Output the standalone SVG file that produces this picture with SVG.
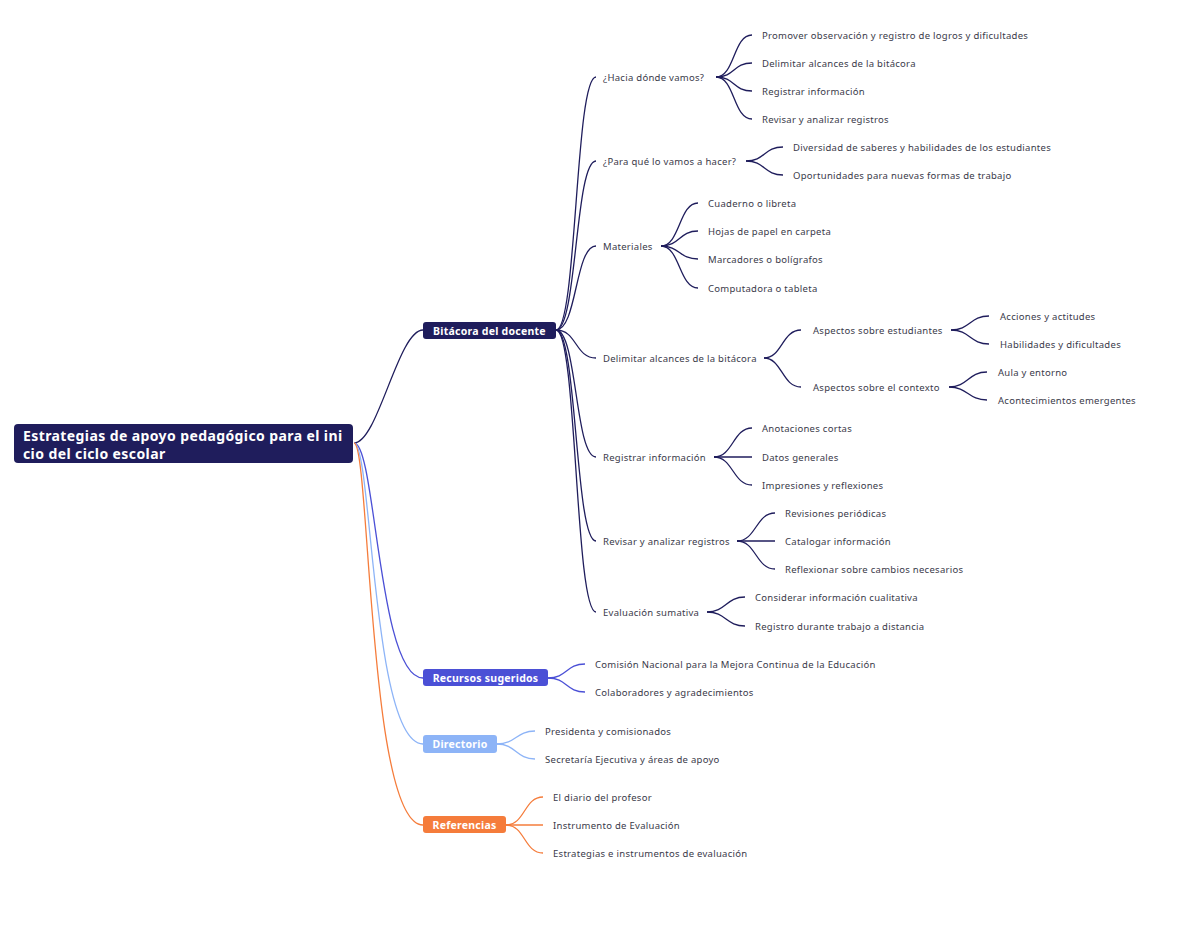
<svg xmlns="http://www.w3.org/2000/svg" width="1200" height="927" viewBox="0 0 1200 927">
<style>
.t{font-family:"Noto Sans","Open Sans",sans-serif;font-size:9.5px;letter-spacing:0.28px;fill:#3a3a4a;dominant-baseline:central}
.nb{font-family:"Noto Sans","Open Sans",sans-serif;font-weight:bold;fill:#ffffff;dominant-baseline:central}
.c{fill:none;stroke-width:1.3}
.cn{stroke:#1f1d5c}
.cr{stroke:#4b50d6}
.cd{stroke:#8db4f7}
.co{stroke:#f57c3b}
</style>
<rect width="1200" height="927" fill="#ffffff"/>
<g id="connectors">
<path class="c cn" d="M354 443 C378 443,398 330,423 330"/>
<path class="c cr" d="M354 443 C376 443,378 678,423 678"/>
<path class="c cd" d="M354 443 C372 443,372 744,423 744"/>
<path class="c co" d="M354 443 C370 443,368 825,423 825"/>
<path class="c cn" d="M556 330 C577 330,575 77,596 77"/>
<path class="c cn" d="M556 330 C577 330,575 161,596 161"/>
<path class="c cn" d="M556 330 C577 330,575 246,596 246"/>
<path class="c cn" d="M556 330 C577 330,575 358,596 358"/>
<path class="c cn" d="M556 330 C577 330,575 457,596 457"/>
<path class="c cn" d="M556 330 C577 330,575 541,596 541"/>
<path class="c cn" d="M556 330 C577 330,575 612,596 612"/>
<path class="c cn" d="M716 77 C735 77,733 35,752 35"/>
<path class="c cn" d="M716 77 C735 77,733 63,752 63"/>
<path class="c cn" d="M716 77 C735 77,733 91,752 91"/>
<path class="c cn" d="M716 77 C735 77,733 119,752 119"/>
<path class="c cn" d="M746 161 C765 161,764 147,783 147"/>
<path class="c cn" d="M746 161 C765 161,764 175,783 175"/>
<path class="c cn" d="M661 246 C680 246,679 203,698 203"/>
<path class="c cn" d="M661 246 C680 246,679 231,698 231"/>
<path class="c cn" d="M661 246 C680 246,679 259,698 259"/>
<path class="c cn" d="M661 246 C680 246,679 288,698 288"/>
<path class="c cn" d="M764 358 C782 358,782 330,801 330"/>
<path class="c cn" d="M764 358 C782 358,782 387,801 387"/>
<path class="c cn" d="M951 330 C970 330,970 316,989 316"/>
<path class="c cn" d="M951 330 C970 330,970 344,989 344"/>
<path class="c cn" d="M949 387 C968 387,968 372,987 372"/>
<path class="c cn" d="M949 387 C968 387,968 400,987 400"/>
<path class="c cn" d="M714 457 C733 457,733 428,752 428"/>
<path class="c cn" d="M714 457 L752 457"/>
<path class="c cn" d="M714 457 C733 457,733 485,752 485"/>
<path class="c cn" d="M737 541 C756 541,756 513,775 513"/>
<path class="c cn" d="M737 541 L775 541"/>
<path class="c cn" d="M737 541 C756 541,756 569,775 569"/>
<path class="c cn" d="M707 612 C726 612,726 597,745 597"/>
<path class="c cn" d="M707 612 C726 612,726 626,745 626"/>
<path class="c cr" d="M548 678 C567 678,566 664,585 664"/>
<path class="c cr" d="M548 678 C567 678,566 692,585 692"/>
<path class="c cd" d="M497 744 C516 744,516 731,535 731"/>
<path class="c cd" d="M497 744 C516 744,516 759,535 759"/>
<path class="c co" d="M506 825 C525 825,524 797,543 797"/>
<path class="c co" d="M506 825 L543 825"/>
<path class="c co" d="M506 825 C525 825,524 853,543 853"/>
</g>
<g id="root">
<rect x="14" y="424" width="339" height="39" rx="4" fill="#1f1d5c"/>
<text class="nb" x="23" y="435" font-size="14" letter-spacing="0.4">Estrategias de apoyo pedagógico para el ini</text>
<text class="nb" x="23" y="453" font-size="14" letter-spacing="0.4">cio del ciclo escolar</text>
</g>
<g id="n-bitacora"><rect x="423" y="322" width="133" height="17" rx="3" fill="#1f1d5c"/><text class="nb" x="489.5" y="330.5" font-size="10.5" letter-spacing="0.25" text-anchor="middle">Bitácora del docente</text></g>
<g id="n-recursos"><rect x="423" y="669" width="125" height="17" rx="3" fill="#4b50d6"/><text class="nb" x="485.5" y="677.5" font-size="10.5" letter-spacing="0.25" text-anchor="middle">Recursos sugeridos</text></g>
<g id="n-directorio"><rect x="423" y="735" width="74" height="18" rx="3" fill="#8db4f7"/><text class="nb" x="460" y="744" font-size="10.5" letter-spacing="0.25" text-anchor="middle">Directorio</text></g>
<g id="n-referencias"><rect x="423" y="816" width="83" height="17" rx="3" fill="#f57c3b"/><text class="nb" x="464.5" y="824.5" font-size="10.5" letter-spacing="0.25" text-anchor="middle">Referencias</text></g>
<g id="n-hacia"><text class="t" x="603" y="77">¿Hacia dónde vamos?</text></g>
<g id="n-hacia-1"><text class="t" x="762" y="35">Promover observación y registro de logros y dificultades</text></g>
<g id="n-hacia-2"><text class="t" x="762" y="63">Delimitar alcances de la bitácora</text></g>
<g id="n-hacia-3"><text class="t" x="762" y="91">Registrar información</text></g>
<g id="n-hacia-4"><text class="t" x="762" y="119">Revisar y analizar registros</text></g>
<g id="n-para"><text class="t" x="603" y="161">¿Para qué lo vamos a hacer?</text></g>
<g id="n-para-1"><text class="t" x="793" y="147">Diversidad de saberes y habilidades de los estudiantes</text></g>
<g id="n-para-2"><text class="t" x="793" y="175">Oportunidades para nuevas formas de trabajo</text></g>
<g id="n-mat"><text class="t" x="603" y="246">Materiales</text></g>
<g id="n-mat-1"><text class="t" x="708" y="203">Cuaderno o libreta</text></g>
<g id="n-mat-2"><text class="t" x="708" y="231">Hojas de papel en carpeta</text></g>
<g id="n-mat-3"><text class="t" x="708" y="259">Marcadores o bolígrafos</text></g>
<g id="n-mat-4"><text class="t" x="708" y="288">Computadora o tableta</text></g>
<g id="n-del"><text class="t" x="603" y="358">Delimitar alcances de la bitácora</text></g>
<g id="n-del-1"><text class="t" x="813" y="330">Aspectos sobre estudiantes</text></g>
<g id="n-del-1a"><text class="t" x="1000" y="316">Acciones y actitudes</text></g>
<g id="n-del-1b"><text class="t" x="1000" y="344">Habilidades y dificultades</text></g>
<g id="n-del-2"><text class="t" x="813" y="387">Aspectos sobre el contexto</text></g>
<g id="n-del-2a"><text class="t" x="998" y="372">Aula y entorno</text></g>
<g id="n-del-2b"><text class="t" x="998" y="400">Acontecimientos emergentes</text></g>
<g id="n-reg"><text class="t" x="603" y="457">Registrar información</text></g>
<g id="n-reg-1"><text class="t" x="762" y="428">Anotaciones cortas</text></g>
<g id="n-reg-2"><text class="t" x="762" y="457">Datos generales</text></g>
<g id="n-reg-3"><text class="t" x="762" y="485">Impresiones y reflexiones</text></g>
<g id="n-rev"><text class="t" x="603" y="541">Revisar y analizar registros</text></g>
<g id="n-rev-1"><text class="t" x="785" y="513">Revisiones periódicas</text></g>
<g id="n-rev-2"><text class="t" x="785" y="541">Catalogar información</text></g>
<g id="n-rev-3"><text class="t" x="785" y="569">Reflexionar sobre cambios necesarios</text></g>
<g id="n-eval"><text class="t" x="603" y="612">Evaluación sumativa</text></g>
<g id="n-eval-1"><text class="t" x="755" y="597">Considerar información cualitativa</text></g>
<g id="n-eval-2"><text class="t" x="755" y="626">Registro durante trabajo a distancia</text></g>
<g id="n-rec-1"><text class="t" x="595" y="664">Comisión Nacional para la Mejora Continua de la Educación</text></g>
<g id="n-rec-2"><text class="t" x="595" y="692">Colaboradores y agradecimientos</text></g>
<g id="n-dir-1"><text class="t" x="545" y="731">Presidenta y comisionados</text></g>
<g id="n-dir-2"><text class="t" x="545" y="759">Secretaría Ejecutiva y áreas de apoyo</text></g>
<g id="n-ref-1"><text class="t" x="553" y="797">El diario del profesor</text></g>
<g id="n-ref-2"><text class="t" x="553" y="825">Instrumento de Evaluación</text></g>
<g id="n-ref-3"><text class="t" x="553" y="853">Estrategias e instrumentos de evaluación</text></g>
</svg>
